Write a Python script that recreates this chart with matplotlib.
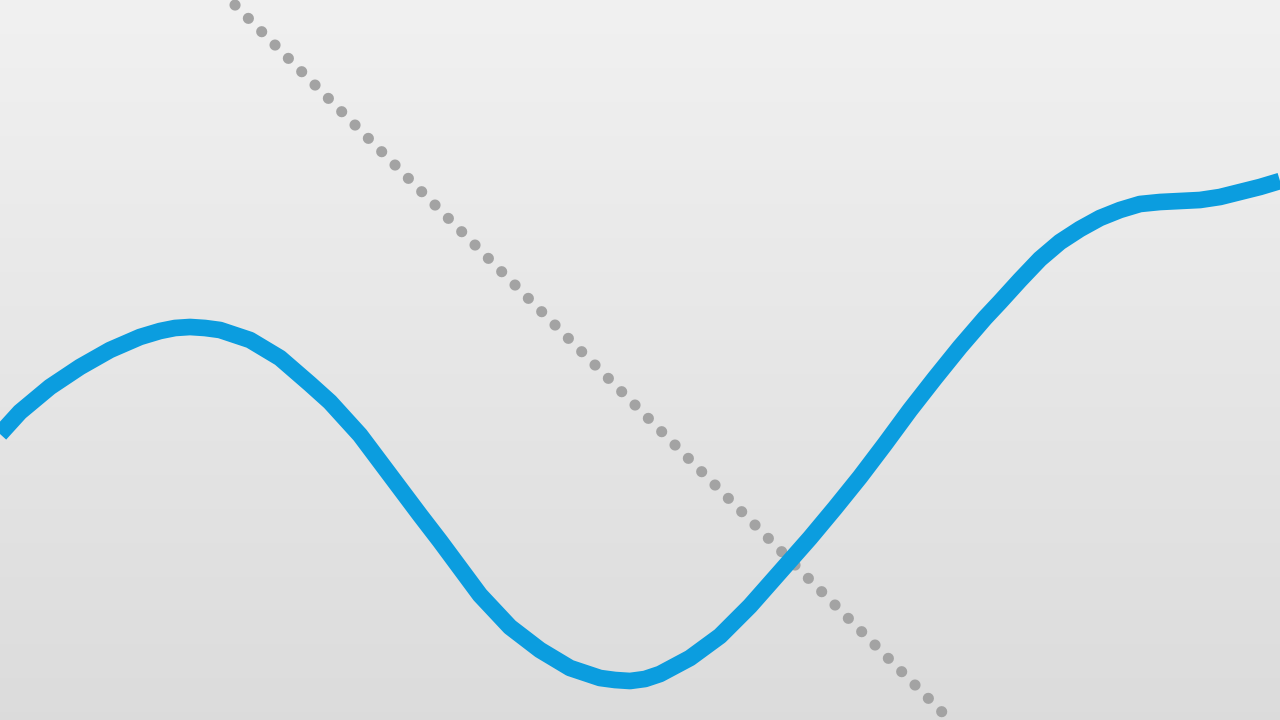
import numpy as np
import matplotlib
matplotlib.use("Agg")
import matplotlib.pyplot as plt

# blue curve (x right, y down)
curve_x = [0, 20, 50, 80, 110, 140, 160, 175, 190, 205, 220, 250, 280, 310,
           330, 360, 390, 420, 440, 480, 510, 540, 570, 600, 615, 630, 645,
           660, 690, 720, 750, 780, 810, 835, 860, 885, 910, 935, 960, 985,
           1000, 1020, 1040, 1060, 1080, 1100, 1120, 1140, 1160, 1180, 1200,
           1220, 1240, 1260, 1280]
curve_y = [434, 412, 387, 367, 350, 337, 331, 328, 327, 328, 330, 340, 358, 384,
           402, 435, 475, 515, 541, 595, 627, 650, 668, 678, 680, 681, 679,
           674, 658, 636, 606, 572, 538, 508, 477, 444, 410, 378, 347, 318,
           302, 280, 259, 242, 229, 218, 210, 204, 202, 201, 200,
           197, 192, 187, 181]

# dotted gray diagonal
dots_x = [235, 946]
dots_y = [5, 716]

fig = plt.figure(figsize=(12.8, 7.2), dpi=100)
ax = fig.add_axes([0, 0, 1, 1])

# soft vertical gradient background
grad = np.linspace(0, 1, 256).reshape(-1, 1)
top = np.array([0.945, 0.945, 0.945])
bottom = np.array([0.862, 0.862, 0.862])
img = top + grad[..., None] * (bottom - top)
img = np.repeat(img, 2, axis=1)
ax.imshow(img, extent=[0, 1280, 720, 0], aspect="auto", zorder=0)

ax.plot(dots_x, dots_y, color="#a3a3a3", lw=8.0,
        linestyle=(0, (0.01, 1.687)), dash_capstyle="round", zorder=1)
ax.plot(curve_x, curve_y, color="#0b9ddf", lw=12,
        solid_capstyle="butt", solid_joinstyle="round", zorder=2)

ax.set_xlim(0, 1280)
ax.set_ylim(720, 0)
ax.axis("off")

plt.savefig("out.png", dpi=100)
